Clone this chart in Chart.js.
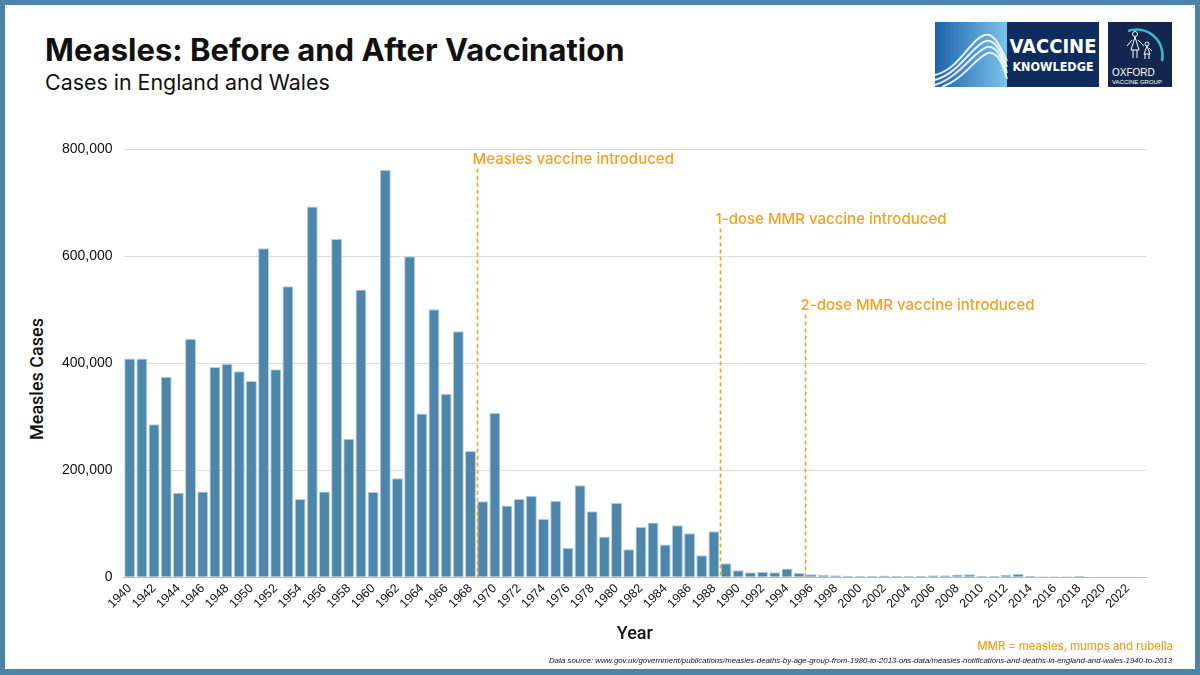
<!DOCTYPE html>
<html lang="en">
<head>
<meta charset="UTF-8">
<title>Measles: Before and After Vaccination</title>
<script src="https://cdn.jsdelivr.net/npm/chart.js@4.4.1/dist/chart.umd.min.js"></script>
<style>
    html, body {
        margin: 0;
        padding: 0;
        background: #ffffff;
    }
    .frame {
        position: relative;
        width: 1200px;
        height: 675px;
        box-sizing: border-box;
        border: 5px solid #4e83a8;
        border-bottom-width: 6px;
        background: #ffffff;
        overflow: hidden;
    }
    .title {
        position: absolute;
        left: 40px;
        top: 26px;
        font-family: Inter, "Noto Sans", sans-serif;
        font-weight: 700;
        font-size: 31px;
        color: #111;
        margin: 0;
    }
    .subtitle {
        position: absolute;
        left: 40px;
        top: 64px;
        font-family: Inter, "Noto Sans", sans-serif;
        font-size: 21.4px;
        color: #111;
        margin: 0;
    }
    .logos {
        position: absolute;
        left: 925px;
        top: 12px;
    }
    .y-title {
        position: absolute;
        left: 31px;
        top: 374px;
        width: 0;
        height: 0;
    }
    .y-title span {
        position: absolute;
        transform: translate(-50%, -50%) rotate(-90deg);
        white-space: nowrap;
        font-family: Roboto, "Liberation Sans", sans-serif;
        font-weight: 500;
        font-size: 18px;
        color: #111;
    }
    .chart-box {
        position: absolute;
        left: 3px;
        top: 125px;
        width: 1157px;
        height: 522px;
    }
    .note {
        position: absolute;
        right: 22px;
        top: 634px;
        font-family: Inter, "Noto Sans", sans-serif;
        font-weight: 500;
        font-size: 11.3px;
        color: #f7a01c;
    }
    .source {
        position: absolute;
        right: 23px;
        top: 651px;
        font-family: "Liberation Sans", Arial, sans-serif;
        font-style: italic;
        font-size: 7.8px;
        color: #111;
    }
</style>
</head>
<body>
<div class="frame">
    <h1 class="title">Measles: Before and After Vaccination</h1>
    <p class="subtitle">Cases in England and Wales</p>

    <svg class="logos" width="245" height="72" viewBox="0 0 245 72">
        <defs>
            <linearGradient id="waveBg" x1="0" y1="0" x2="1" y2="0">
                <stop offset="0" stop-color="#1d63ad"/>
                <stop offset="1" stop-color="#7cc3ea"/>
            </linearGradient>
        </defs>
        <!-- vaccine knowledge -->
        <rect x="5" y="5" width="164" height="65" fill="#0e2c5e"/>
        <rect x="5" y="5" width="72" height="65" fill="url(#waveBg)"/>
        <g fill="none" stroke="#ffffff" stroke-width="2" opacity="0.85">
            <path d="M5 58 C30 52 40 22 55 18 C65 16 70 30 77 44"/>
            <path d="M5 63 C30 56 42 28 56 24 C66 22 71 36 77 50"/>
            <path d="M5 68 C30 60 44 34 57 30 C67 28 72 42 77 56"/>
            <path d="M12 70 C34 62 46 40 58 36 C68 34 73 48 77 62"/>
        </g>
        <text x="123" y="36" text-anchor="middle" font-family="'DejaVu Sans Condensed', 'Liberation Sans Narrow', sans-serif" font-weight="700" font-size="20" fill="#ffffff">VACCINE</text>
        <text x="123" y="54" text-anchor="middle" font-family="'DejaVu Sans Condensed', 'Liberation Sans Narrow', sans-serif" font-weight="700" font-size="12.5" fill="#ffffff">KNOWLEDGE</text>
        <!-- oxford vaccine group -->
        <rect x="178" y="5" width="64" height="65" fill="#13264f"/>
        <path d="M198 14 A26 26 0 0 1 232 44" fill="none" stroke="#3cb6c8" stroke-width="2.5"/>
        <g fill="none" stroke="#ffffff" stroke-width="1">
            <circle cx="205" cy="17" r="2.5"/>
            <path d="M205 20 L201 33 L209 33 Z"/>
            <path d="M203 33 L203 41 M207 33 L207 41 M202 23 L197 29 M208 23 L214 29"/>
            <circle cx="217" cy="27" r="2"/>
            <path d="M217 29 L214 37 L220 37 Z M215 37 L215 42 M219 37 L219 42 M219 31 L222 34"/>
        </g>
        <text x="182" y="59" font-family="'Liberation Sans', sans-serif" font-size="10" fill="#ffffff">OXFORD</text>
        <text x="182" y="67" font-family="'Liberation Sans', sans-serif" font-size="6" fill="#ffffff">VACCINE GROUP</text>
    </svg>

    <div class="y-title"><span>Measles Cases</span></div>
    <div class="chart-box"><canvas id="measlesChart"></canvas></div>

    <div class="note">MMR = measles, mumps and rubella</div>
    <div class="source">Data source: www.gov.uk/government/publications/measles-deaths-by-age-group-from-1980-to-2013-ons-data/measles-notifications-and-deaths-in-england-and-wales-1940-to-2013</div>
</div>

<script>
    // Years on the x axis (last bar, 2023, has no label)
    const years = [
        '1940', '1941', '1942', '1943', '1944', '1945', '1946', '1947', '1948', '1949',
        '1950', '1951', '1952', '1953', '1954', '1955', '1956', '1957', '1958', '1959',
        '1960', '1961', '1962', '1963', '1964', '1965', '1966', '1967', '1968', '1969',
        '1970', '1971', '1972', '1973', '1974', '1975', '1976', '1977', '1978', '1979',
        '1980', '1981', '1982', '1983', '1984', '1985', '1986', '1987', '1988', '1989',
        '1990', '1991', '1992', '1993', '1994', '1995', '1996', '1997', '1998', '1999',
        '2000', '2001', '2002', '2003', '2004', '2005', '2006', '2007', '2008', '2009',
        '2010', '2011', '2012', '2013', '2014', '2015', '2016', '2017', '2018', '2019',
        '2020', '2021', '2022', '2023'
    ];

    // Measles cases
    const cases = [
        409000, 409000, 286000, 375000, 158000, 446000, 160000, 393000, 399000, 385000,
        367000, 615000, 389000, 544000, 146000, 693000, 160000, 633000, 259000, 538000,
        159000, 762000, 185000, 600000, 306000, 501000, 343000, 460000, 236000, 142000,
        307000, 134000, 146000, 152000, 109000, 143000, 55000, 172000, 123000, 76000,
        139000, 52000, 94000, 102000, 61000, 97000, 82000, 41000, 86000, 26000,
        13000, 9000, 10000, 9000, 16000, 7500, 5600, 4000, 3700, 2400,
        2400, 2300, 3000, 2500, 2400, 2100, 3700, 3700, 5100, 5200,
        2200, 2300, 4200, 6200, 1900, 1600, 1500, 1500, 2100, 800,
        300, 200, 400, 700
    ];

    // y axis ticks
    const yTicks = [0, 200000, 400000, 600000, 800000];

    // Vaccine milestones: line drawn after this year's bar
    const milestoneYears = ['1968', '1988', '1995'];
    const milestoneLabels = [
        'Measles vaccine introduced',
        '1-dose MMR vaccine introduced',
        '2-dose MMR vaccine introduced'
    ];

    const orange = '#f7a01c';

    // draws the dashed milestone lines and their labels
    const milestonePlugin = {
        id: 'milestones',
        afterDatasetsDraw(chart, args, opts) {
            const { ctx, scales: { x, y } } = chart;
            const bottom = y.getPixelForValue(0);
            milestoneYears.forEach((yr, i) => {
                const idx = years.indexOf(yr);
                const px = Math.round((x.getPixelForValue(idx) + x.getPixelForValue(idx + 1)) / 2) + 0.5;
                const top = y.getPixelForValue(opts.tops[i]);
                ctx.save();
                ctx.strokeStyle = orange;
                ctx.lineWidth = 1.6;
                ctx.setLineDash([4, 3]);
                ctx.beginPath();
                ctx.moveTo(px, top);
                ctx.lineTo(px, bottom);
                ctx.stroke();
                ctx.setLineDash([]);
                ctx.fillStyle = orange;
                ctx.font = '500 15px Inter, "Noto Sans", sans-serif';
                ctx.textAlign = 'left';
                ctx.textBaseline = 'alphabetic';
                ctx.fillText(milestoneLabels[i], px - 5, top - 5);
                ctx.restore();
            });
        }
    };

    const ctx = document.getElementById('measlesChart').getContext('2d');
    new Chart(ctx, {
        type: 'bar',
        data: {
            labels: years,
            datasets: [{
                label: 'Measles Cases',
                data: cases,
                backgroundColor: '#4e86ab',
                borderColor: '#b9d0e0',
                borderWidth: 1,
                borderSkipped: 'bottom',
                barPercentage: 0.9,
                categoryPercentage: 1.0
            }]
        },
        options: {
            responsive: true,
            maintainAspectRatio: false,
            animation: false,
            layout: {
                padding: { top: 3, right: 19, left: 43, bottom: 3 }
            },
            plugins: {
                legend: { display: false },
                tooltip: { enabled: false },
                milestones: { tops: [764000, 652000, 491000] }
            },
            scales: {
                x: {
                    grid: { display: false, drawTicks: false },
                    border: { color: '#bbbbbb' },
                    ticks: {
                        autoSkip: false,
                        maxRotation: 45,
                        minRotation: 45,
                        padding: 4,
                        color: '#111',
                        font: { family: '"Liberation Sans", Arial, sans-serif', size: 12.5 },
                        callback: function(value, index) {
                            return index % 2 === 0 ? years[index] : '';
                        }
                    },
                    title: {
                        display: true,
                        text: 'Year',
                        color: '#111',
                        font: { family: 'Roboto, "Liberation Sans", sans-serif', size: 18, weight: '500' },
                        padding: { top: 8 }
                    }
                },
                y: {
                    min: 0,
                    max: 800000,
                    afterBuildTicks: function(axis) {
                        axis.ticks = yTicks.map(v => ({ value: v }));
                    },
                    grid: { color: '#dddddd', drawTicks: false },
                    border: { display: false },
                    ticks: {
                        padding: 11,
                        color: '#111',
                        font: { family: '"Liberation Sans", Arial, sans-serif', size: 14 },
                        callback: v => v.toLocaleString('en-GB')
                    }
                }
            }
        },
        plugins: [milestonePlugin]
    });
</script>
</body>
</html>
